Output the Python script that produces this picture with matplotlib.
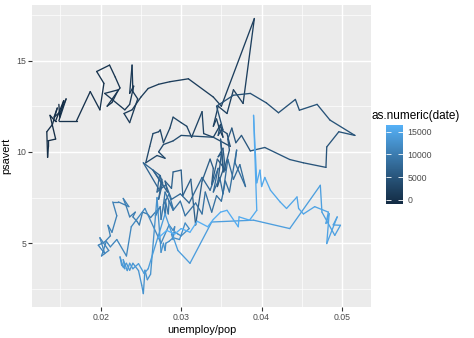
import matplotlib
matplotlib.use("Agg")
import matplotlib.pyplot as plt
import numpy as np
import pandas as pd
from matplotlib.collections import LineCollection
from matplotlib.colors import ListedColormap, Normalize, to_rgb
from matplotlib.cm import ScalarMappable

# economics data, every two months (Jan, Mar, May, Jul, Sep, Nov)
dates = pd.date_range("1967-07-01", "2015-03-01", freq="2MS")

unemploy_pop = [
    0.0148, 0.0149, 0.0154,                          # 1967
    0.0144, 0.0143, 0.0137, 0.0144, 0.0134, 0.0135,  # 1968
    0.0135, 0.0134, 0.0133, 0.0140, 0.0146, 0.0142,  # 1969
    0.0150, 0.0157, 0.0148, 0.0170, 0.0187, 0.0199,  # 1970
    0.0204, 0.0195, 0.0211, 0.0218, 0.0224, 0.0208,  # 1971
    0.0214, 0.0222, 0.0205, 0.0230, 0.0236, 0.0241,  # 1972
    0.0236, 0.0239, 0.0240, 0.0246, 0.0236, 0.0229,  # 1973
    0.0239, 0.0250, 0.0259, 0.0272, 0.0286, 0.0309,  # 1974
    0.0340, 0.0350, 0.0391, 0.0377, 0.0365, 0.0357,  # 1975
    0.0346, 0.0340, 0.0344, 0.0348, 0.0352, 0.0349,  # 1976
    0.0340, 0.0328, 0.0326, 0.0313, 0.0307, 0.0300,  # 1977
    0.0290, 0.0286, 0.0278, 0.0274, 0.0272, 0.0265,  # 1978
    0.0261, 0.0256, 0.0270, 0.0280, 0.0272, 0.0278,  # 1979
    0.0290, 0.0300, 0.0340, 0.0361, 0.0357, 0.0350,  # 1980
    0.0346, 0.0348, 0.0352, 0.0344, 0.0365, 0.0386,  # 1981
    0.0406, 0.0421, 0.0442, 0.0447, 0.0469, 0.0485,  # 1982
    0.0516, 0.0496, 0.0481, 0.0480, 0.0452, 0.0435,  # 1983
    0.0404, 0.0386, 0.0375, 0.0368, 0.0363, 0.0358,  # 1984
    0.0360, 0.0353, 0.0349, 0.0352, 0.0345, 0.0350,  # 1985
    0.0346, 0.0352, 0.0355, 0.0345, 0.0338, 0.0340,  # 1986
    0.0336, 0.0326, 0.0318, 0.0312, 0.0302, 0.0300,  # 1987
    0.0290, 0.0288, 0.0280, 0.0283, 0.0265, 0.0277,  # 1988
    0.0274, 0.0253, 0.0273, 0.0276, 0.0272, 0.0277,  # 1989
    0.0273, 0.0270, 0.0281, 0.0288, 0.0299, 0.0310,  # 1990
    0.0326, 0.0336, 0.0346, 0.0340, 0.0348, 0.0352,  # 1991
    0.0358, 0.0365, 0.0373, 0.0380, 0.0367, 0.0369,  # 1992
    0.0360, 0.0355, 0.0350, 0.0344, 0.0338, 0.0330,  # 1993
    0.0326, 0.0318, 0.0305, 0.0299, 0.0290, 0.0280,  # 1994
    0.0278, 0.0285, 0.0290, 0.0285, 0.0284, 0.0280,  # 1995
    0.0280, 0.0278, 0.0275, 0.0274, 0.0268, 0.0272,  # 1996
    0.0262, 0.0258, 0.0252, 0.0248, 0.0245, 0.0240,  # 1997
    0.0243, 0.0236, 0.0232, 0.0228, 0.0235, 0.0222,  # 1998
    0.0215, 0.0220, 0.0214, 0.0209, 0.0212, 0.0205,  # 1999
    0.0197, 0.0205, 0.0199, 0.0210, 0.0201, 0.0207,  # 2000
    0.0212, 0.0220, 0.0232, 0.0238, 0.0255, 0.0275,  # 2001
    0.0285, 0.0290, 0.0292, 0.0290, 0.0288, 0.0293,  # 2002
    0.0296, 0.0300, 0.0310, 0.0305, 0.0298, 0.0290,  # 2003
    0.0285, 0.0281, 0.0280, 0.0278, 0.0275, 0.0270,  # 2004
    0.0262, 0.0258, 0.0255, 0.0253, 0.0251, 0.0247,  # 2005
    0.0240, 0.0236, 0.0232, 0.0228, 0.0224, 0.0226,  # 2006
    0.0230, 0.0228, 0.0233, 0.0236, 0.0240, 0.0247,  # 2007
    0.0254, 0.0259, 0.0280, 0.0296, 0.0311, 0.0338,  # 2008
    0.0390, 0.0435, 0.0473, 0.0475, 0.0491, 0.0498,  # 2009
    0.0489, 0.0494, 0.0481, 0.0484, 0.0480, 0.0483,  # 2010
    0.0466, 0.0452, 0.0446, 0.0444, 0.0431, 0.0423,  # 2011
    0.0411, 0.0404, 0.0400, 0.0398, 0.0394, 0.0390,  # 2012
    0.0394, 0.0385, 0.0372, 0.0371, 0.0357, 0.0349,  # 2013
    0.0340, 0.0333, 0.0320, 0.0311, 0.0300, 0.0292,  # 2014
    0.0282, 0.0272,                                  # 2015
]

psavert = [
    12.6, 11.9, 12.8,                   # 1967
    11.7, 11.7, 12.0, 10.7, 10.6, 10.6,  # 1968
    10.3, 9.7, 11.1, 11.5, 12.4, 11.9,   # 1969
    12.2, 12.9, 11.7, 11.7, 13.3, 12.3,  # 1970
    13.75, 14.4, 14.75, 14.1, 13.5, 12.5,  # 1971
    12.7, 13.4, 13.2, 12.3, 12.6, 13.6,  # 1972
    13.2, 14.75, 13.3, 12.9, 11.6, 12.1,  # 1973
    12.3, 13.0, 13.47, 13.7, 13.84, 14.0,  # 1974
    13.0, 12.5, 17.3, 12.65, 13.4, 12.1,  # 1975
    12.5, 11.4, 11.8, 11.2, 10.8, 11.5,  # 1976
    10.8, 11.0, 12.2, 10.8, 11.4, 11.6,  # 1977
    11.9, 11.3, 10.5, 11.2, 11.1, 11.0,  # 1978
    10.3, 9.4, 9.8, 9.65, 10.0, 10.4,    # 1979
    10.6, 10.9, 10.8, 10.3, 11.0, 11.2,  # 1980
    10.9, 11.4, 11.2, 12.5, 13.1, 13.2,  # 1981
    12.68, 12.14, 12.87, 12.28, 12.6, 11.74,  # 1982
    10.9, 11.1, 10.27, 9.15, 9.4, 9.58,  # 1983
    10.24, 10.05, 10.9, 10.5, 11.3, 10.7,  # 1984
    10.1, 8.9, 10.7, 9.0, 8.1, 9.9,      # 1985
    9.73, 10.2, 9.0, 9.6, 8.2, 9.1,      # 1986
    9.6, 8.4, 6.0, 8.5, 7.6, 9.0,        # 1987
    8.9, 8.0, 8.4, 7.8, 9.0, 8.2,        # 1988
    8.7, 9.4, 7.9, 8.5, 7.4, 8.3,        # 1989
    8.7, 7.8, 8.2, 7.4, 7.7, 7.2,        # 1990
    8.6, 7.9, 9.1, 7.8, 8.6, 7.7,        # 1991
    9.6, 8.5, 9.3, 8.1, 9.4, 10.1,       # 1992
    7.8, 8.4, 7.3, 7.6, 6.7, 7.8,        # 1993
    6.6, 7.2, 6.5, 7.3, 6.8, 7.8,        # 1994
    7.1, 7.7, 6.9, 7.3, 6.6, 7.4,        # 1995
    6.6, 7.1, 6.3, 7.0, 6.5, 6.9,        # 1996
    6.4, 6.6, 6.7, 6.0, 6.2, 6.44,       # 1997
    6.7, 6.44, 6.99, 7.45, 7.0, 7.26,    # 1998
    7.26, 6.5, 5.6, 5.98, 5.4, 5.07,     # 1999
    4.89, 4.43, 5.3, 4.6, 4.3, 5.1,      # 2000
    4.8, 5.2, 4.3, 5.9, 6.9, 5.0,        # 2001
    6.0, 5.7, 5.9, 5.2, 5.5, 5.6,        # 2002
    5.5, 5.4, 5.8, 6.1, 5.2, 5.3,        # 2003
    5.1, 5.0, 4.6, 5.0, 4.5, 7.5,        # 2004
    3.3, 3.0, 3.52, 2.24, 2.7, 3.5,      # 2005
    3.9, 3.52, 3.9, 3.7, 4.25, 3.8,      # 2006
    3.6, 4.1, 3.5, 3.9, 3.6, 3.88,       # 2007
    3.34, 3.6, 6.6, 4.6, 3.9, 6.16,      # 2008
    6.26, 5.8, 8.17, 6.7, 5.43, 5.98,    # 2009
    6.0, 6.44, 4.98, 6.62, 6.08, 6.7,    # 2010
    7.0, 6.6, 6.9, 7.53, 6.9, 7.26,      # 2011
    7.9, 8.6, 8.1, 9.0, 8.3, 12.0,       # 2012
    6.8, 6.26, 6.44, 5.9, 6.8, 6.7,      # 2013
    6.3, 5.9, 6.2, 5.6, 5.8, 5.5,        # 2014
    5.7, 5.3,                            # 2015
]

legend_ticks = [0, 5000, 10000, 15000]
low_col, high_col = "#132B43", "#56B1F7"


# ggplot builds its gradient in Lab space, so do the same here
def to_lab(c):
    rgb = np.array(to_rgb(c))
    lin = np.where(rgb <= 0.04045, rgb / 12.92, ((rgb + 0.055) / 1.055) ** 2.4)
    m = np.array([[0.4124, 0.3576, 0.1805], [0.2126, 0.7152, 0.0722], [0.0193, 0.1192, 0.9505]])
    xyz = m @ lin / np.array([0.95047, 1.0, 1.08883])
    f = np.where(xyz > 0.008856, np.cbrt(xyz), 7.787 * xyz + 16 / 116)
    return np.array([116 * f[1] - 16, 500 * (f[0] - f[1]), 200 * (f[1] - f[2])])


def from_lab(lab):
    fy = (lab[0] + 16) / 116
    fx = fy + lab[1] / 500
    fz = fy - lab[2] / 200
    f = np.array([fx, fy, fz])
    xyz = np.where(f ** 3 > 0.008856, f ** 3, (f - 16 / 116) / 7.787) * np.array([0.95047, 1.0, 1.08883])
    mi = np.array([[3.2406, -1.5372, -0.4986], [-0.9689, 1.8758, 0.0415], [0.0557, -0.2040, 1.0570]])
    lin = mi @ xyz
    rgb = np.where(lin <= 0.0031308, 12.92 * lin, 1.055 * np.clip(lin, 0, None) ** (1 / 2.4) - 0.055)
    return np.clip(rgb, 0, 1)


lab_lo, lab_hi = to_lab(low_col), to_lab(high_col)
cmap = ListedColormap([from_lab(lab_lo + t * (lab_hi - lab_lo)) for t in np.linspace(0, 1, 256)])

date_num = ((dates - pd.Timestamp("1970-01-01")).days).to_numpy(dtype=float)
x = np.array(unemploy_pop)
y = np.array(psavert)
norm = Normalize(vmin=date_num.min(), vmax=date_num.max())

plt.rcParams["font.family"] = ["Liberation Sans", "DejaVu Sans"]

fig = plt.figure(figsize=(4.74, 3.38), dpi=100)
ax = fig.add_axes([32 / 474, 1 - 307.3 / 338, 339 / 474, 302.3 / 338])
ax.set_facecolor("#EBEBEB")

pts = np.column_stack([x, y]).reshape(-1, 1, 2)
segs = np.concatenate([pts[:-1], pts[1:]], axis=1)
lc = LineCollection(segs, cmap=cmap, norm=norm, linewidths=0.95,
                    capstyle="round", joinstyle="round")
lc.set_array(date_num[:-1])
ax.add_collection(lc)

ax.set_xlim(0.01146, 0.0536)
ax.set_ylim(1.49, 18.04)
ax.set_xticks([0.02, 0.03, 0.04, 0.05])
ax.set_xticklabels(["0.02", "0.03", "0.04", "0.05"])
ax.set_yticks([5, 10, 15])
ax.set_xticks([0.015, 0.025, 0.035, 0.045], minor=True)
ax.set_yticks([2.5, 7.5, 12.5, 17.5], minor=True)
ax.grid(which="major", color="white", linewidth=1.05)
ax.grid(which="minor", color="white", linewidth=0.5)
ax.set_axisbelow(True)
for s in ax.spines.values():
    s.set_visible(False)
ax.tick_params(which="major", length=2.6, width=0.8, color="#333333",
               labelcolor="#4D4D4D", labelsize=6.3, pad=1.5)
ax.tick_params(which="minor", length=0)
ax.set_xlabel("unemploy/pop", fontsize=7.9, color="black", labelpad=2)
ax.set_ylabel("psavert", fontsize=7.9, color="black", labelpad=4)

# colour bar legend
cax = fig.add_axes([386 / 474, 1 - 204 / 338, 17 / 474, 79 / 338])
cb = fig.colorbar(ScalarMappable(norm=norm, cmap=cmap), cax=cax, ticks=legend_ticks)
cb.outline.set_visible(False)
cax.tick_params(direction="in", length=3.4, width=0.6, color="white",
                labelcolor="#4D4D4D", labelsize=6.3, left=True, right=True, pad=3)
fig.text(371.5 / 474, 1 - 116 / 338, "as.numeric(date)", fontsize=8.5,
         ha="left", va="center")

fig.savefig("out.png", dpi=100, facecolor="white")
